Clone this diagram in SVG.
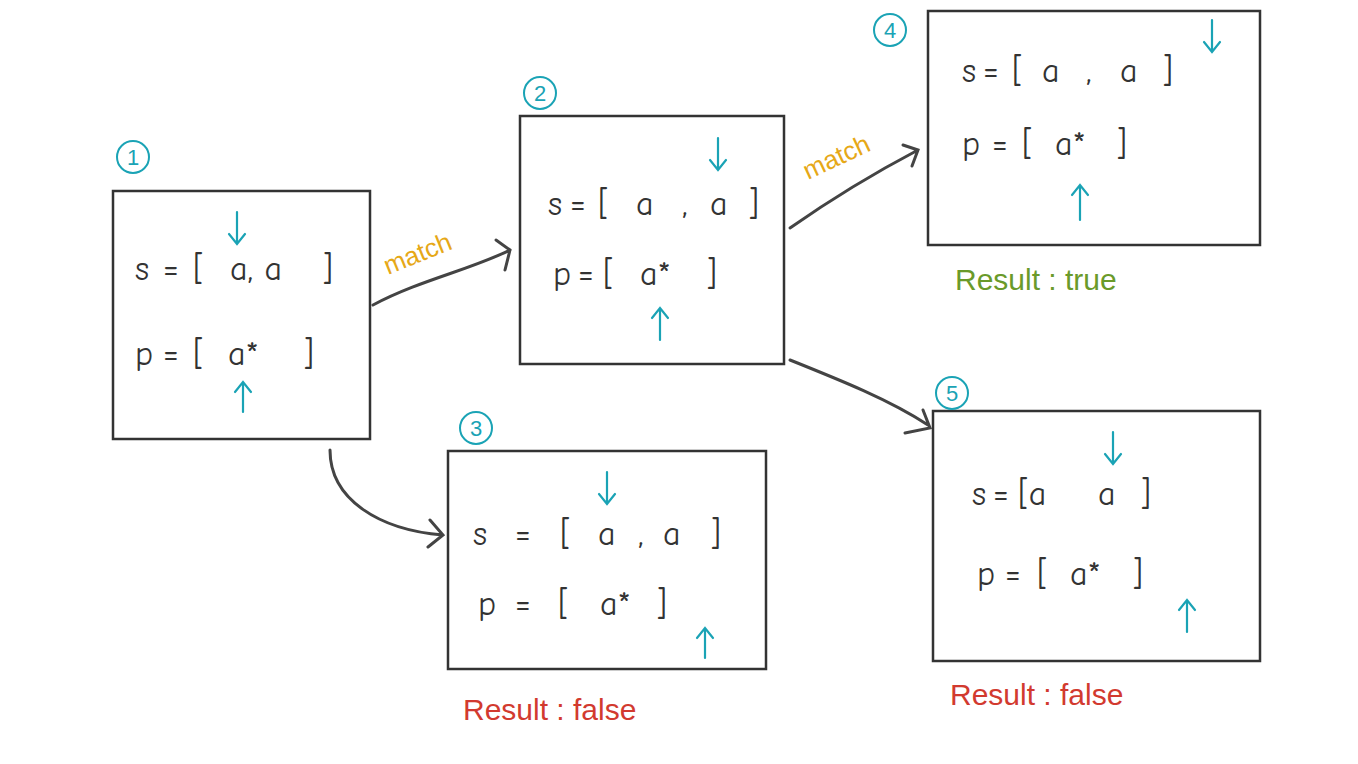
<svg xmlns="http://www.w3.org/2000/svg" width="1358" height="764" viewBox="0 0 1358 764">
<style>
.box{fill:none;stroke:#333;stroke-width:2.5}
.t{font-family:"Comic Neue","Liberation Sans",sans-serif;font-size:34px;fill:#333}
.c{fill:none;stroke:#1aa3b5;stroke-width:2}
.n{font-family:"Liberation Sans",sans-serif;font-size:22px;fill:#1aa3b5;text-anchor:middle}
.ar{fill:none;stroke:#1aa3b5;stroke-width:2.2;stroke-linecap:round}
.con{fill:none;stroke:#444;stroke-width:3;stroke-linecap:round}
.m{font-family:"Liberation Sans",sans-serif;font-size:26px;fill:#e6a817}
.res{font-family:"Liberation Sans",sans-serif;font-size:30px}
</style>
<rect width="1358" height="764" fill="#fff"/>
<g id="connectors">
<path class="con" d="M373,305 C420,280 470,270 510,250 M496,240 L510,250 L505,270"/>
<path class="con" d="M790,228 C830,200 880,170 918,150 M903,145 L918,150 L912,166"/>
<path class="con" d="M330,450 C330,500 380,530 443,535 M430,520 L443,535 L428,547"/>
<path class="con" d="M790,360 C840,380 890,400 928,425 M905,433 L930,428 L923,410"/>
<text class="m" transform="translate(388,275) rotate(-22)">match</text>
<text class="m" transform="translate(808,180) rotate(-25)">match</text>
</g>
<g id="node1">
<rect class="box" x="113" y="191" width="257" height="248"/>
<circle class="c" cx="133" cy="157" r="16"/><text class="n" x="133" y="165">1</text>
<text class="t" y="280"><tspan x="135">s</tspan><tspan x="163">=</tspan><tspan x="193">[</tspan><tspan x="230">a, a</tspan><tspan x="322">]</tspan></text>
<text class="t" y="365"><tspan x="135">p</tspan><tspan x="163">=</tspan><tspan x="193">[</tspan><tspan x="228">a*</tspan><tspan x="303">]</tspan></text>
<path class="ar" d="M237,212 V243 M229,234 L237,244 L245,234"/>
<path class="ar" d="M243,412 V382 M235,392 L243,382 L251,392"/>
</g>
<g id="node2">
<rect class="box" x="520" y="116" width="264" height="248"/>
<circle class="c" cx="540" cy="93" r="16"/><text class="n" x="540" y="101">2</text>
<text class="t" y="215"><tspan x="548">s</tspan><tspan x="570">=</tspan><tspan x="598">[</tspan><tspan x="636">a</tspan><tspan x="682">,</tspan><tspan x="710">a</tspan><tspan x="748">]</tspan></text>
<text class="t" y="285"><tspan x="553">p</tspan><tspan x="578">=</tspan><tspan x="603">[</tspan><tspan x="640">a*</tspan><tspan x="706">]</tspan></text>
<path class="ar" d="M718,138 V168 M710,160 L718,170 L726,160"/>
<path class="ar" d="M660,340 V308 M652,318 L660,308 L668,318"/>
</g>
<g id="node3">
<rect class="box" x="448" y="451" width="318" height="218"/>
<circle class="c" cx="476" cy="428" r="16"/><text class="n" x="476" y="436">3</text>
<text class="t" y="545"><tspan x="473">s</tspan><tspan x="515">=</tspan><tspan x="560">[</tspan><tspan x="598">a</tspan><tspan x="638">,</tspan><tspan x="663">a</tspan><tspan x="710">]</tspan></text>
<text class="t" y="615"><tspan x="478">p</tspan><tspan x="515">=</tspan><tspan x="558">[</tspan><tspan x="600">a*</tspan><tspan x="656">]</tspan></text>
<path class="ar" d="M607,472 V502 M599,494 L607,504 L615,494"/>
<path class="ar" d="M705,658 V628 M697,638 L705,628 L713,638"/>
<text class="res" x="463" y="720" fill="#d23a2f">Result : false</text>
</g>
<g id="node4">
<rect class="box" x="928" y="11" width="332" height="234"/>
<circle class="c" cx="890" cy="30" r="16"/><text class="n" x="890" y="38">4</text>
<text class="t" y="82"><tspan x="962">s</tspan><tspan x="983">=</tspan><tspan x="1012">[</tspan><tspan x="1042">a</tspan><tspan x="1086">,</tspan><tspan x="1120">a</tspan><tspan x="1162">]</tspan></text>
<text class="t" y="155"><tspan x="962">p</tspan><tspan x="992">=</tspan><tspan x="1022">[</tspan><tspan x="1055">a*</tspan><tspan x="1116">]</tspan></text>
<path class="ar" d="M1212,20 V50 M1204,42 L1212,52 L1220,42"/>
<path class="ar" d="M1080,220 V185 M1072,195 L1080,185 L1088,195"/>
<text class="res" x="955" y="290" fill="#6a9a2a">Result : true</text>
</g>
<g id="node5">
<rect class="box" x="933" y="411" width="327" height="250"/>
<circle class="c" cx="952" cy="393" r="16"/><text class="n" x="952" y="401">5</text>
<text class="t" y="505"><tspan x="972">s</tspan><tspan x="993">=</tspan><tspan x="1018">[a</tspan><tspan x="1098">a</tspan><tspan x="1140">]</tspan></text>
<text class="t" y="585"><tspan x="977">p</tspan><tspan x="1005">=</tspan><tspan x="1037">[</tspan><tspan x="1070">a*</tspan><tspan x="1132">]</tspan></text>
<path class="ar" d="M1113,432 V462 M1105,454 L1113,464 L1121,454"/>
<path class="ar" d="M1187,632 V600 M1179,610 L1187,600 L1195,610"/>
<text class="res" x="950" y="705" fill="#d23a2f">Result : false</text>
</g>
</svg>
